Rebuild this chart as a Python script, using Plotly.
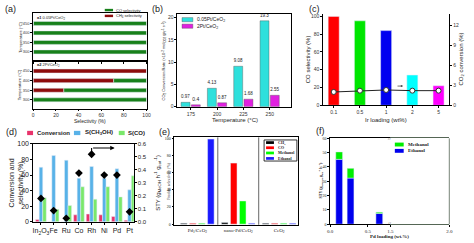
import plotly.graph_objects as go

W, H = 474, 243
def DX(a, b): return [a / W, b / W]
def DY(top, bot): return [1 - bot / H, 1 - top / H]
def PX(x): return x / W
def PY(y): return 1 - y / H

# ---------------- data ----------------
a_temps = ["300", "350", "400", "450"]
a1_co = [100, 100, 100, 100]
a1_ch4 = [0, 0, 0, 0]
a2_ch4 = [0, 27, 71, 100]
a2_co = [100, 73, 29, 0]
a_xticks = [0, 20, 40, 60, 80, 100]

b_temps = ["175", "200", "225", "250"]
b_pt005 = [0.97, 4.13, 9.08, 19.3]
b_pt2 = [0.4, 0.87, 1.68, 2.55]
b_yticks = [0, 5, 10, 15, 20]

c_loading = ["0.1", "0.5", "1", "2", "5"]
c_co_sel = [100, 95, 84, 34, 22]
c_co2_conv = [2.0, 2.2, 2.3, 2.2, 2.2]
c_colors = ["#ff0000", "#00e600", "#0000f0", "#00ffff", "#ff00ff"]
c_lticks = [0, 20, 40, 60, 80, 100]
c_rticks = [0, 3, 6, 9, 12]

d_cat = ["In<sub>2</sub>O<sub>3</sub>", "Fe", "Ru", "Co", "Rh", "Ni", "Pd", "Pt"]
d_conv = [3, 0, 0, 9, 10, 9, 7, 2]
d_s_meoh = [70, 85, 79, 56, 71, 56, 68, 41]
d_s_co = [31, 16, 21, 45, 29, 45, 32, 59]
d_sty = [0.18, 0.087, 0.027, 0.375, 0.52, 0.36, 0.36, 0.077]
d_lticks = [0, 20, 40, 60, 80, 100]
d_rticks = [0.0, 0.1, 0.2, 0.3, 0.4, 0.5, 0.6]

e_cat = ["Pd<sub>1</sub>/CeO<sub>2</sub>", "nano-Pd/CeO<sub>2</sub>", "CeO<sub>2</sub>"]
e_ch4 = [1, 2, 1]
e_co = [1, 71, 1]
e_meoh = [1, 27, 1]
e_etoh = [99, 1, 1]
e_yticks = [0, 20, 40, 60, 80, 100]

f_pd = [0.12, 0.27, 0.65]
f_etoh = [45.3, 32.2, 7.5]
f_meoh = [5.2, 6.8, 0.9]
f_yticks = [0, 10, 20, 30, 40, 50, 60]
f_xticks_left = [0.0, 0.5]
f_xticks_right = [1.5, 2.0]

SANS = "Liberation Sans"
SERIF = "Liberation Serif"

fig = go.Figure()

# ---------------- panel a ----------------
A_GREEN, A_RED = "#17801a", "#8e0c0c"
fig.add_trace(go.Bar(y=a_temps, x=a1_co, base=0, orientation="h", marker_color=A_GREEN,
                     width=0.42, offsetgroup="a", xaxis="x", yaxis="y", showlegend=False))
fig.add_trace(go.Bar(y=a_temps, x=a1_ch4, base=0, orientation="h", marker_color=A_RED,
                     width=0.42, offsetgroup="a", xaxis="x", yaxis="y", showlegend=False))
fig.add_trace(go.Bar(y=a_temps, x=a2_ch4, base=0, orientation="h", marker_color=A_RED,
                     width=0.42, offsetgroup="a", xaxis="x2", yaxis="y2", showlegend=False))
fig.add_trace(go.Bar(y=a_temps, x=a2_co, base=a2_ch4, orientation="h", marker_color=A_GREEN,
                     width=0.42, offsetgroup="a", xaxis="x2", yaxis="y2", showlegend=False))

# ---------------- panel b ----------------
fig.add_trace(go.Bar(x=b_temps, y=b_pt005, marker_color="#2ee0dc", marker_line_color="#555",
                     marker_line_width=0.4, width=0.34, offset=-0.37,
                     text=[str(v) for v in b_pt005], textposition="outside",
                     textfont=dict(size=5, family=SANS, color="#222"), cliponaxis=False,
                     xaxis="x3", yaxis="y3", showlegend=False))
fig.add_trace(go.Bar(x=b_temps, y=b_pt2, marker_color="#e020e0", marker_line_color="#555",
                     marker_line_width=0.4, width=0.34, offset=0.02,
                     text=[str(v) for v in b_pt2], textposition="outside",
                     textfont=dict(size=5, family=SANS, color="#222"), cliponaxis=False,
                     xaxis="x3", yaxis="y3", showlegend=False))

# ---------------- panel c ----------------
fig.add_trace(go.Bar(x=c_loading, y=c_co_sel, marker_color=c_colors, width=0.42,
                     xaxis="x4", yaxis="y4", showlegend=False))
fig.add_trace(go.Scatter(x=c_loading, y=c_co2_conv, mode="lines+markers",
                         line=dict(color="#222", width=1),
                         marker=dict(color="white", size=5, line=dict(color="#333", width=1)),
                         xaxis="x4", yaxis="y5", showlegend=False))

# ---------------- panel d ----------------
fig.add_trace(go.Bar(x=d_cat, y=d_conv, marker_color="#e8336b", width=0.28, offset=-0.42,
                     xaxis="x5", yaxis="y6", showlegend=False))
fig.add_trace(go.Bar(x=d_cat, y=d_s_meoh, marker_color="#58b2e8", width=0.28, offset=-0.14,
                     xaxis="x5", yaxis="y6", showlegend=False))
fig.add_trace(go.Bar(x=d_cat, y=d_s_co, marker_color="#7ae86a", width=0.28, offset=0.14,
                     xaxis="x5", yaxis="y6", showlegend=False))
fig.add_trace(go.Scatter(x=d_cat, y=d_sty, mode="markers",
                         marker=dict(symbol="diamond", color="black", size=6),
                         xaxis="x5", yaxis="y7", showlegend=False))

# ---------------- panel e ----------------
e_series = [(e_ch4, "#000000", -0.41), (e_co, "#ff0000", -0.19),
            (e_meoh, "#00ff00", 0.03), (e_etoh, "#1a1aff", 0.25)]
for vals, col, off in e_series:
    fig.add_trace(go.Bar(x=e_cat, y=vals, marker_color=col, width=0.16, offset=off,
                         xaxis="x6", yaxis="y8", showlegend=False))

# ---------------- panel f ----------------
fig.add_trace(go.Bar(x=f_pd, y=f_etoh, base=0, marker_color="#0000ee", width=0.09,
                     offsetgroup="f", xaxis="x7", yaxis="y9", showlegend=False))
fig.add_trace(go.Bar(x=f_pd, y=f_meoh, base=f_etoh, marker_color="#00ee00", width=0.09,
                     offsetgroup="f", xaxis="x7", yaxis="y9", showlegend=False))
# invisible trace so the right-hand (broken) segment of the x axis gets drawn
fig.add_trace(go.Scatter(x=f_xticks_right, y=[0] * len(f_xticks_right), mode="markers",
                         marker=dict(opacity=0, size=1), hoverinfo="skip",
                         xaxis="x8", yaxis="y9", showlegend=False))

# ---------------- axes ----------------
def ax(**kw):
    base = dict(showline=True, linecolor="black", linewidth=0.8, mirror=True, ticks="outside",
                ticklen=2, tickwidth=0.6, tickcolor="black", showgrid=False, zeroline=False,
                tickfont=dict(size=5, family=SANS, color="#333"), fixedrange=True, tickangle=0)
    base.update(kw)
    return base

layout = dict(
    width=W, height=H, autosize=False, margin=dict(l=0, r=0, t=0, b=0),
    paper_bgcolor="white", plot_bgcolor="white", barmode="group",
    font=dict(family=SANS, size=5, color="#333"),
    # a
    xaxis=ax(domain=DX(30.7, 145.7), anchor="y", range=[0, 100], tickvals=a_xticks, showticklabels=False),
    yaxis=ax(domain=DY(9, 58.7), anchor="x", type="category", range=[-0.96, 4.12],
             tickfont=dict(size=4, family=SANS, color="#333")),
    xaxis2=ax(domain=DX(30.7, 145.7), anchor="y2", range=[0, 100], tickvals=a_xticks,
              tickfont=dict(size=5, family=SANS, color="#333")),
    yaxis2=ax(domain=DY(58.7, 107.7), anchor="x2", type="category", range=[-0.91, 4.04],
              tickfont=dict(size=4, family=SANS, color="#333")),
    # b
    xaxis3=ax(domain=DX(177, 292.7), anchor="y3", type="category", range=[-0.51, 3.82]),
    yaxis3=ax(domain=DY(10, 105.7), anchor="x3", range=[0, 20.9], tickvals=b_yticks),
    # c
    xaxis4=ax(domain=DX(325, 453), anchor="y4", type="category", range=[-0.4, 4.41], mirror=False),
    yaxis4=ax(domain=DY(10, 104.3), anchor="x4", range=[0, 103], tickvals=c_lticks, mirror=False),
    yaxis5=ax(overlaying="y4", side="right", anchor="x4", range=[0, 13.75], tickvals=c_rticks, mirror=False),
    # d
    xaxis5=ax(domain=DX(30.7, 132.7), anchor="y6", type="category", range=[-0.61, 7.33],
              tickfont=dict(size=7, family=SANS, color="#222")),
    yaxis6=ax(domain=DY(144, 224.3), anchor="x5", range=[0, 100], tickvals=d_lticks, mirror=False,
              tickfont=dict(size=7, family=SANS, color="#222")),
    yaxis7=ax(overlaying="y6", side="right", anchor="x5", range=[0, 0.6], tickvals=d_rticks,
              tickformat=".1f", mirror=False, tickfont=dict(size=6, family=SANS, color="#222")),
    # e
    xaxis6=ax(domain=DX(174, 299), anchor="y8", type="category", range=[-0.56, 2.45], ticks="",
              tickfont=dict(size=5, family=SERIF, color="#222")),
    yaxis8=ax(domain=DY(137.3, 227.3), anchor="x6", range=[-0.7, 101], tickvals=e_yticks,
              tickfont=dict(size=4, family=SERIF, color="#222")),
    # f
    xaxis7=ax(domain=DX(332, 392.7), anchor="y9", range=[0, 0.79], tickvals=f_xticks_left, tickformat=".1f",
              tickfont=dict(size=5, family=SERIF, color="#222")),
    xaxis8=ax(domain=DX(393.3, 453), anchor="y9", range=[1.5, 2.0], tickvals=f_xticks_right, tickformat=".1f",
              tickfont=dict(size=5, family=SERIF, color="#222"), linecolor="#556655"),
    yaxis9=ax(domain=DY(138.3, 226.7), anchor="x7", range=[0, 60], tickvals=f_yticks, mirror=False,
              tickfont=dict(size=4, family=SERIF, color="#222")),
)
fig.update_layout(**layout)

# ---------------- annotations ----------------
ann = []
def T(x, y, text, size=5, family=SANS, color="#222", angle=0, xanchor="center", yanchor="middle", bold=False):
    if bold:
        text = "<b>" + text + "</b>"
    ann.append(dict(x=PX(x), y=PY(y), xref="paper", yref="paper", text=text, showarrow=False,
                    font=dict(size=size, family=family, color=color), textangle=angle,
                    xanchor=xanchor, yanchor=yanchor))

# panel labels
T(8, 5, "(a)", size=9)
T(157, 5, "(b)", size=9)
T(316, 5, "(c)", size=9)
T(9, 132, "(d)", size=9)
T(164, 132, "(e)", size=9)
T(322, 131, "(f)", size=9)

# a
T(17, 34, "Temperature (°C)", size=4, angle=-90)
T(17, 83, "Temperature (°C)", size=4, angle=-90)
T(88, 120, "Selectivity (%)", size=5)
T(32.5, 14, "<b>a1</b> 0.05Pt/CeO<sub>2</sub>", size=4, xanchor="left")
T(32.5, 63, "<b>a2</b> 2Pt/CeO<sub>2</sub>", size=4, xanchor="left")
T(113, 6.2, "CO selectivity", size=4, xanchor="left")
T(113, 12.2, "CH<sub>4</sub> selectivity", size=4, xanchor="left")

# b
T(163.5, 58, "CO<sub>2</sub> Conversion Rate (×10<sup>-2</sup> mol<sub>CO2</sub> g<sub>Pt</sub><sup>-1</sup> s<sup>-1</sup>)",
  size=4, angle=-90)
T(235, 119.5, "Temperature (°C)", size=6)
T(195, 16.2, "0.05Pt/CeO<sub>2</sub>", size=5, xanchor="left")
T(195, 23, "2Pt/CeO<sub>2</sub>", size=5, xanchor="left")

# c
T(309.5, 57, "CO selectivity (%)", size=6, angle=-90)
T(465, 57, "CO<sub>2</sub> conversion (%)", size=6, angle=-90)
T(389, 119, "Ir loading (wt%)", size=6)

# d
T(14, 184, "Conversion and<br>selectivity (%)", size=7, angle=-90)
T(157.5, 184, "STY (g<sub>MeOH</sub> h<sup>-1</sup> g<sub>cat</sub><sup>-1</sup>)", size=6, angle=-90)
T(32.5, 132.8, "Conversion", size=6, xanchor="left", bold=True)
T(81, 132.8, "S(CH<sub>3</sub>OH)", size=6, xanchor="left", bold=True)
T(125, 132.8, "S(CO)", size=6, xanchor="left", bold=True)

# e
T(168.5, 182, "Product selectivity (%)", size=4, family=SERIF, angle=-90)
T(277, 142.7, "CH<sub>4</sub>", size=4, family=SERIF, xanchor="left", bold=True)
T(277, 148, "CO", size=4, family=SERIF, xanchor="left", bold=True)
T(277, 153.4, "Methanol", size=4, family=SERIF, xanchor="left", bold=True)
T(277, 159, "Ethanol", size=4, family=SERIF, xanchor="left", bold=True)

# f
T(322.5, 182, "STY (g<sub>MeOH</sub> g<sub>Pd</sub><sup>-1</sup> h<sup>-1</sup>)", size=4, family=SERIF, angle=-90, bold=True)
T(392, 239.8, "Pd loading (wt.%)", size=5, family=SERIF, bold=True)
T(409, 144.7, "Methanol", size=5, family=SERIF, xanchor="left", bold=True)
T(409, 151.2, "Ethanol", size=5, family=SERIF, xanchor="left", bold=True)
T(392.5, 225.8, "//", size=5, family=SERIF)
T(392.5, 138.3, "//", size=5, family=SERIF)

# arrows
ann.append(dict(x=5.82, y=0.568, xref="x5", yref="y7", ax=4, ay=0.568, axref="x5", ayref="y7",
                showarrow=True, arrowhead=2, arrowsize=0.8, arrowwidth=1.1, arrowcolor="black", text=""))
ann.append(dict(x=PX(406), y=PY(84.5), xref="paper", yref="paper", ax=-7, ay=0,
                showarrow=True, arrowhead=2, arrowsize=0.6,
                arrowwidth=0.7, arrowcolor="#333", text=""))
fig.update_layout(annotations=ann)

# ---------------- shapes (legend swatches, dividers, frame) ----------------
shapes = []
def R(x0, y0, x1, y1, fill, line=None, lw=0):
    shapes.append(dict(type="rect", xref="paper", yref="paper", x0=PX(x0), x1=PX(x1), y0=PY(y1), y1=PY(y0),
                       fillcolor=fill, line=dict(color=line or fill, width=lw)))

R(103.3, 5, 111.7, 7.5, A_GREEN)
R(103.3, 11, 111.7, 13.5, A_RED)
R(181.7, 14, 192.7, 18.3, "#2ee0dc", "#555", 0.4)
R(181.7, 20.7, 192.7, 25, "#e020e0", "#555", 0.4)
R(24.5, 130.6, 30.5, 135, "#e8336b")
R(72, 130.6, 78.5, 135, "#58b2e8")
R(117.5, 130.6, 123.5, 135, "#7ae86a")
R(265, 140, 298.3, 161.7, "rgba(0,0,0,0)", "black", 0.8)
R(267, 141.3, 275, 144.1, "#000000")
R(267, 146.6, 275, 149.4, "#ff0000")
R(267, 152, 275, 154.8, "#00ff00")
R(267, 157.6, 275, 160.4, "#1a1aff")
R(397.7, 142.7, 406.7, 146.7, "#00ee00")
R(397.7, 149.2, 406.7, 153.2, "#0000ee")
for xd in [0.5, 1.5]:
    shapes.append(dict(type="line", xref="x6", yref="y8 domain", x0=xd, x1=xd, y0=0, y1=1,
                       line=dict(color="#666", width=1)))
shapes.append(dict(type="line", xref="x5", yref="y7", x0=4, x1=4, y0=0.525, y1=0.568,
                   line=dict(color="black", width=1.1)))
# right border of panel f (right segment of the broken axis)
shapes.append(dict(type="line", xref="x8 domain", yref="y9 domain", x0=1, x1=1, y0=0, y1=1,
                   line=dict(color="#556655", width=0.8)))
fig.update_layout(shapes=shapes)

fig.write_html("out.html")
